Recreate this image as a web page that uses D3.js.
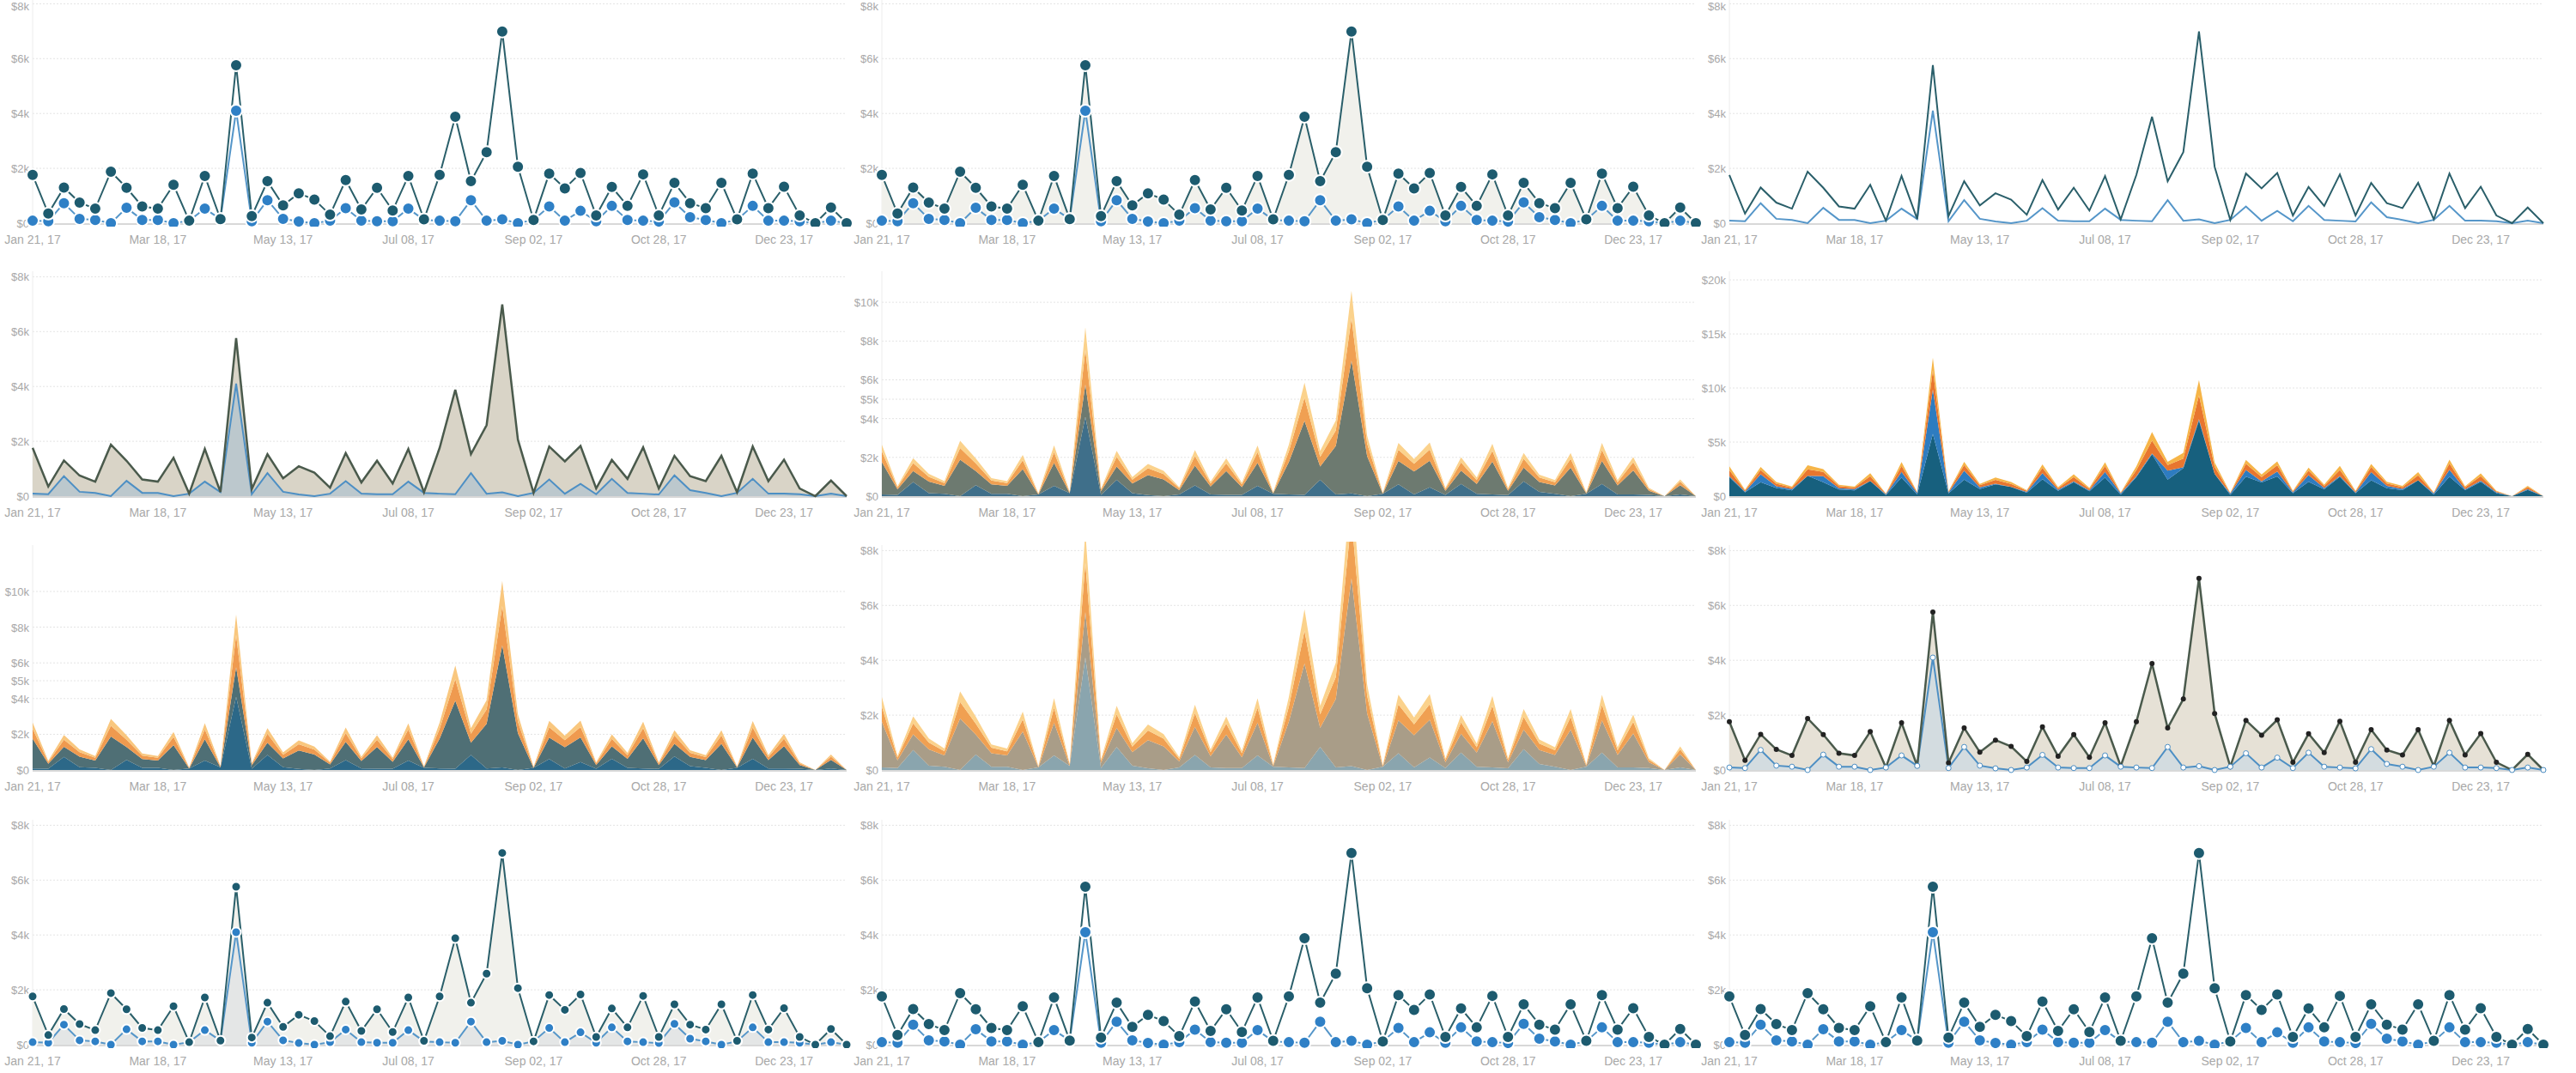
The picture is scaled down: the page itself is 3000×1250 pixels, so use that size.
<!DOCTYPE html>
<html><head><meta charset="utf-8">
<script src="https://cdn.jsdelivr.net/npm/d3@7"></script>
<style>body{margin:0;background:#fff;font-family:"Liberation Sans",Arial,sans-serif}</style>
</head><body><svg id="c" width="3000" height="1250"></svg>
<script>
const startDate = "2017-01-21";
const tickEvery = 8;
const seriesA = [0.09,0.07,0.73,0.16,0.12,0,0.56,0.12,0.12,0,0.09,0.53,0.15,4.1,0.07,0.84,0.16,0.06,0,0.09,0.55,0.09,0.07,0.07,0.53,0.12,0.09,0.07,0.84,0.09,0.14,0,0.12,0.61,0.09,0.45,0.07,0.63,0.12,0.09,0.06,0.76,0.22,0.12,0,0.12,0.63,0.09,0.09,0.07,0,0.09,0];
const seriesB = [1.76,0.35,1.3,0.75,0.53,1.88,1.29,0.61,0.53,1.4,0.09,1.72,0.15,5.76,0.26,1.53,0.65,1.09,0.86,0.31,1.57,0.5,1.29,0.46,1.72,0.14,1.76,3.88,1.53,2.59,6.99,2.06,0.12,1.81,1.27,1.83,0.28,1.32,0.63,1.78,0.28,1.47,0.73,0.55,1.47,0.14,1.81,0.55,1.33,0.28,0,0.57,0];
const seriesC = [0.55,0.1,0.4,0.25,0.15,0.6,0.4,0.2,0.15,0.45,0.03,0.55,0.05,1.8,0.08,0.5,0.2,0.35,0.28,0.1,0.5,0.15,0.4,0.15,0.55,0.04,0.55,1.2,0.5,0.8,2.2,0.65,0.04,0.58,0.4,0.57,0.09,0.42,0.2,0.56,0.09,0.46,0.23,0.17,0.46,0.04,0.57,0.17,0.42,0.09,0,0.18,0];
const seriesD = [0.35,0.07,0.26,0.15,0.1,0.38,0.26,0.12,0.1,0.28,0.02,0.35,0.03,1.15,0.05,0.31,0.13,0.22,0.17,0.06,0.31,0.1,0.26,0.09,0.34,0.03,0.35,0.78,0.31,0.52,1.4,0.41,0.02,0.36,0.25,0.37,0.06,0.26,0.13,0.36,0.06,0.29,0.15,0.11,0.29,0.03,0.36,0.11,0.27,0.06,0,0.11,0];
const ticks8 = [0,2,4,6,8], ticks10=[0,2,4,5,6,8,10], ticks20=[0,5,10,15,20];

const t0 = new Date(startDate+"T00:00:00");
const dates = seriesA.map((_,i)=>d3.timeWeek.offset(t0,i));
const rows = dates.map((d,i)=>({date:d,A:seriesA[i],B:seriesB[i],BA:Math.max(0,seriesB[i]-seriesA[i]),C:seriesC[i],D:seriesD[i]}));
const svg = d3.select("#c");
const fmt = d3.timeFormat("%b %d, %y");
const DARK="#1d5b6f", BLUE="#2f80c6";
const colX=[38,1027,2014], rowY=[260,578,897,1217], W=948, PH=262;

const panels = [
 {t:"lines",dots:"big"},{t:"lines",dots:"big",area:true},{t:"lines"},
 {t:"area2"},{t:"stack",max:11.6,ticks:ticks10,keys:["A","BA","C","D"],cols:["#3f6f8a","#6d7a70","#f0a052","#fbd28c"]},
 {t:"stack",max:20.8,ticks:ticks20,keys:["B","A","C","D"],cols:["#17607e","#2e7cc0","#e8762f","#f6b548"]},
 {t:"stack",max:12.6,ticks:ticks10,keys:["A","BA","C","D"],cols:["#2c6888","#4f6f75","#ef9a4f","#f9c77e"]},
 {t:"stack",max:8.2,ticks:ticks8,keys:["A","BA","C","D"],cols:["#8aa5ae","#a99d88","#f0a052","#fbd28c"]},
 {t:"area2",dotted:true},
 {t:"lines",dots:"small",area:true,areaA:true},{t:"lines",dots:"big"},{t:"lines",dots:"big"}
];

panels.forEach((p,k)=>{
  const ox=colX[k%3], base=rowY[Math.floor(k/3)];
  const max=p.max||8.2, ticks=p.ticks||ticks8;
  const x=d3.scaleTime().domain([dates[0],dates[dates.length-1]]).range([ox,ox+W]);
  const y=d3.scaleLinear().domain([0,max]).range([base,base-PH]);
  const g=svg.append("g");
  const cid="clip"+k;
  g.append("clipPath").attr("id",cid).append("rect").attr("x",ox-10).attr("y",base-PH-4).attr("width",W+20).attr("height",PH+8);
  g.selectAll(".gl").data(ticks.filter(t=>t>0)).join("line")
   .attr("x1",ox).attr("x2",ox+W).attr("y1",d=>y(d)).attr("y2",d=>y(d))
   .attr("stroke","#e4e4e4").attr("stroke-dasharray","2,2");
  g.append("line").attr("x1",ox).attr("x2",ox).attr("y1",base).attr("y2",base-PH).attr("stroke","#ececec");
  g.append("line").attr("x1",ox).attr("x2",ox+W).attr("y1",base+1).attr("y2",base+1).attr("stroke","#d8d8d8").attr("stroke-width",2);
  g.selectAll(".yl").data(ticks).join("text").attr("x",ox-4).attr("y",d=>Math.max(12,y(d)+5))
   .attr("text-anchor","end").attr("font-size",13).attr("fill","#a8a8a8").text(d=>"$"+(d?d+"k":"0"));
  g.selectAll(".xl").data(dates.filter((d,i)=>i%tickEvery===0&&i<=48)).join("text")
   .attr("x",d=>x(d)).attr("y",base+24).attr("text-anchor","middle").attr("font-size",14).attr("fill","#a8a8a8").text(fmt);
  const m=g.append("g").attr("clip-path",`url(#${cid})`);
  const line=key=>d3.line().x(d=>x(d.date)).y(d=>y(d[key]));
  const area=key=>d3.area().x(d=>x(d.date)).y0(y(0)).y1(d=>y(d[key]));
  if(p.t==="lines"){
    if(p.area) m.append("path").datum(rows).attr("d",area("B")).attr("fill","#f1f1ec");
    if(p.areaA) m.append("path").datum(rows).attr("d",area("A")).attr("fill","#e4e6e6");
    m.append("path").datum(rows).attr("d",line("A")).attr("fill","none").attr("stroke","#5596c9").attr("stroke-width",2);
    m.append("path").datum(rows).attr("d",line("B")).attr("fill","none").attr("stroke","#2a5f6a").attr("stroke-width",2);
    if(p.dots){
      const r=p.dots==="big"?7:5.5;
      ["A","B"].forEach(key=>m.selectAll(".d"+key).data(rows).join("circle")
        .attr("cx",d=>x(d.date)).attr("cy",d=>y(d[key])).attr("r",r)
        .attr("fill",key==="A"?BLUE:DARK).attr("stroke","#fff").attr("stroke-width",2));
    }
  } else if(p.t==="area2"){
    m.append("path").datum(rows).attr("d",area("B")).attr("fill",p.dotted?"#e6e1d6":"#d9d4c7");
    m.append("path").datum(rows).attr("d",area("A")).attr("fill",p.dotted?"#d3dce0":"#bcc8cd");
    m.append("path").datum(rows).attr("d",line("A")).attr("fill","none").attr("stroke","#4d8fc4").attr("stroke-width",2);
    m.append("path").datum(rows).attr("d",line("B")).attr("fill","none").attr("stroke","#4a5a4c").attr("stroke-width",2.5);
    if(p.dotted){
      m.selectAll(".pb").data(rows).join("circle").attr("cx",d=>x(d.date)).attr("cy",d=>y(d.B)).attr("r",3).attr("fill","#222");
      m.selectAll(".pa").data(rows).join("circle").attr("cx",d=>x(d.date)).attr("cy",d=>y(d.A)).attr("r",3).attr("fill","#fff").attr("stroke","#4d8fc4");
    }
  } else {
    const st=d3.stack().keys(p.keys)(rows);
    const ar=d3.area().x(d=>x(d.data.date)).y0(d=>y(d[0])).y1(d=>y(d[1]));
    m.selectAll(".ly").data(st).join("path").attr("d",ar).attr("fill",(d,i)=>p.cols[i]);
  }
});
</script></body></html>
